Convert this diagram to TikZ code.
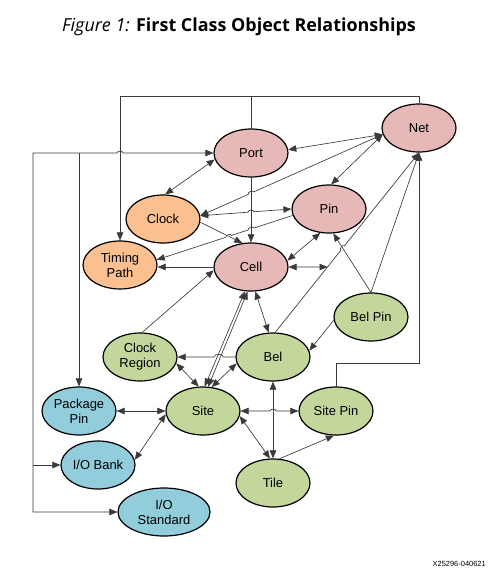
\documentclass[tikz,border=0pt]{standalone}
\usepackage{fontspec}
\setmainfont{Liberation Sans}
\newfontfamily\titlefont{Open Sans}
\usetikzlibrary{arrows.meta,calc,shapes.geometric}
\definecolor{pinkc}{HTML}{E6B9B8}
\definecolor{orangec}{HTML}{FAC090}
\definecolor{greenc}{HTML}{C3D69B}
\definecolor{bluec}{HTML}{92CDDC}
\definecolor{linec}{HTML}{3A3A3A}
\tikzset{
  obj/.style={ellipse, draw=black, line width=1.2bp, minimum width=74bp, minimum height=48bp,
    inner sep=0pt, align=center, font=\fontsize{13}{15}\selectfont},
  pinkn/.style={obj, fill=pinkc},
  orangen/.style={obj, fill=orangec},
  greenn/.style={obj, fill=greenc},
  bluen/.style={obj, fill=bluec},
  link/.style={draw=linec, line width=0.65bp},
  >={Triangle[length=8bp,width=6.5bp]}
}
\begin{document}
\begin{tikzpicture}[x=1bp,y=-1bp]
\useasboundingbox (0,0) rectangle (502,580);
% title and footer
\node[anchor=base, inner sep=0pt] (title) at (239,32)
  {\titlefont\fontsize{18}{22}\selectfont\itshape Figure 1: \upshape\bfseries First Class Object Relationships};
\node[anchor=base east, inner sep=0pt, font=\fontsize{7.5}{9}\selectfont] (foot) at (486,566) {X25296-040621};
% nodes
\node[pinkn] (port) at (251,153) {Port};
\node[pinkn] (net) at (419,128) {Net};
\node[orangen] (clock) at (163,219) {Clock};
\node[pinkn] (pin) at (329,209) {Pin};
\node[orangen] (tpath) at (120,265) {Timing\\Path};
\node[pinkn] (cell) at (251,267) {Cell};
\node[greenn] (belpin) at (371,317) {Bel Pin};
\node[greenn] (bel) at (273,357) {Bel};
\node[greenn] (creg) at (140,357) {Clock\\Region};
\node[greenn] (site) at (203,411) {Site};
\node[bluen] (ppin) at (79,411) {Package\\Pin};
\node[greenn] (sitepin) at (336,411) {Site Pin};
\node[bluen] (iobank) at (98,465) {I/O Bank};
\node[greenn] (tile) at (273,483) {Tile};
\node[bluen, minimum width=92bp] (iostd) at (164,512) {I/O\\Standard};
% helper coordinates
\coordinate (topy) at (0,96);
\coordinate (c363) at (0,363);
\coordinate (lx) at (33,0);
\coordinate (lc) at (lx |- port.west);
\coordinate (lb) at (lx |- iobank.west);
\coordinate (lp) at (ppin.north |- port.west);
\coordinate (j1) at (tpath.north |- port.west);
\coordinate (j2) at (intersection of net.190--clock.5 and port.south--cell.north);
\coordinate (j3) at (intersection of clock.5--pin.west and port.south--cell.north);
\coordinate (j4) at (intersection of pin.190--tpath.8 and port.south--cell.north);
\coordinate (j8) at (intersection of pin.190--tpath.8 and clock.355--cell.110);
\coordinate (j5a) at (intersection of cell.256--site.86 and bel.west--creg.east);
\coordinate (j5b) at (intersection of cell.262--site.78 and bel.west--creg.east);
\coordinate (j6) at (bel.south |- site.east);
\coordinate (j7) at (intersection of bel.85--net.south and belpin.north--pin.280);
\coordinate (bnr) at (cell.east -| net.east);
\coordinate (bn) at (intersection of bel.85--net.south and cell.east--bnr);
% top loop
\draw[link,->] (port.north) -- (port.north |- topy) -| (tpath.north);
\draw[link] (net.north) |- (port.north |- topy);
% left loop
\draw[link,<->] (port.west) -- ($(j1)!3bp!(port.west)$) to[bend right=90] ($(j1)!3bp!(lc)$) -- (lc) |- (iostd.west);
\draw[link,->] (lp) -- (ppin.north);
\draw[link,->] (lb) -- (iobank.west);
% upper relations
\draw[link,<->] (port.190) -- (clock.85);
\draw[link,<->] (net.190) -- (port.5);
\draw[link,<->] (net.190) -- (pin.85);
\draw[link,->] (net.190) -- ($(j2)!3bp!(net.190)$) to[bend right=90] ($(j2)!3bp!(clock.5)$) -- (clock.5);
\draw[link,<->] (clock.5) -- ($(j3)!3bp!(clock.5)$) to[bend left=90] ($(j3)!3bp!(pin.west)$) -- (pin.west);
\draw[link,->] (pin.190) -- ($(j4)!3bp!(pin.190)$) to[bend right=90] ($(j4)!3bp!(tpath.8)$)
  -- ($(j8)!3bp!(pin.190)$) to[bend right=90] ($(j8)!3bp!(tpath.8)$) -- (tpath.8);
\draw[link,->] (clock.355) -- (cell.110);
\draw[link,->] (port.south) -- (cell.north);
\draw[link,->] (cell.west) -- (cell.west -| tpath.east);
\draw[link,->] (creg.85) -- (cell.185);
\draw[link,<->] (cell.10) -- (pin.250);
\draw[link,<->] (cell.east) -- (bn);
\draw[link,->] (bel.85) -- ($(j7)!3bp!(bel.85)$) to[bend left=90] ($(j7)!3bp!(net.south)$) -- (net.south);
\draw[link,->] (belpin.185) -- (bel.10);
\draw[link,->] (belpin.north) -- (net.south);
\draw[link,->] (belpin.north) -- (pin.280);
% lower relations
\draw[link,<->] (cell.280) -- (bel.100);
\draw[link,<->] (cell.256) -- (site.86);
\draw[link,<->] (cell.262) -- (site.78);
\draw[link,->] (bel.west) -- ($(j5b)!3bp!(bel.west)$) to[bend right=90] ($(j5a)!3bp!(creg.east)$) -- (creg.east);
\draw[link,<->] (creg.350) -- (site.100);
\draw[link,<->] (bel.190) -- (site.70);
\draw[link,<->] (site.west) -- (ppin.east);
\draw[link,<->] (site.185) -- (iobank.8);
\draw[link,<->] (site.east) -- ($(j6)!3bp!(site.east)$) to[bend left=90] ($(j6)!3bp!(sitepin.west)$) -- (sitepin.west);
\draw[link,<->] (bel.south) -- (tile.north);
\draw[link,<->] (site.352) -- (tile.97);
\draw[link,->] (tile.75) -- (sitepin.265);
\draw[link,->] (sitepin.north) -- (sitepin.north |- c363) -| (net.south);
\end{tikzpicture}
\end{document}
